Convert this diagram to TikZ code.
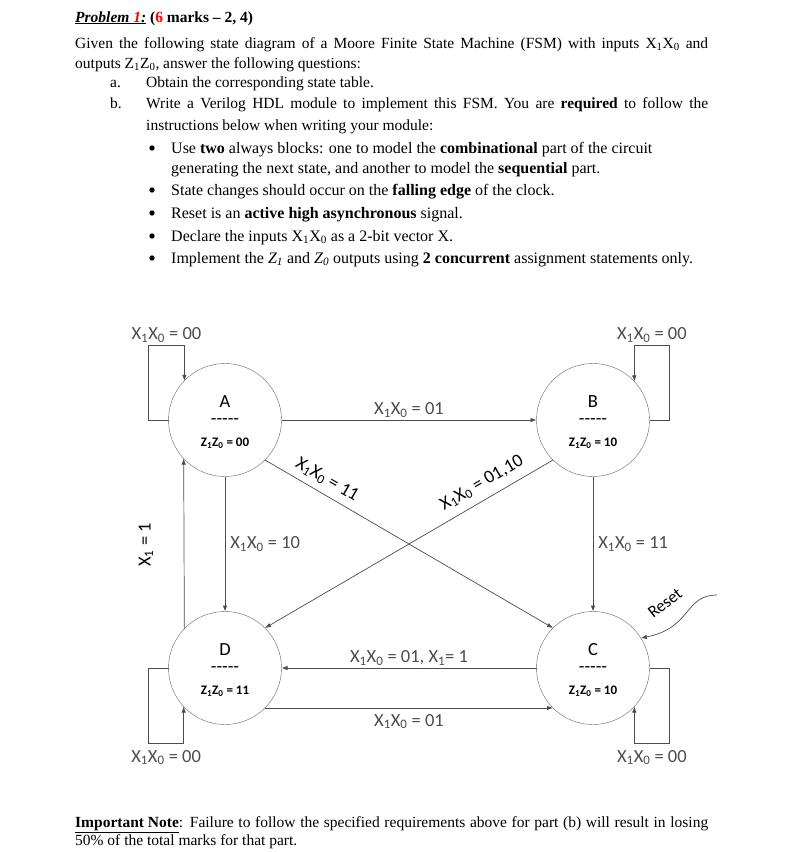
\documentclass[tikz,border=0pt]{standalone}
\usepackage{fontspec}
\setmainfont{Liberation Serif}
\newfontfamily\diagfont{Carlito}
\usetikzlibrary{arrows.meta}
\newcommand{\xin}{X\textsubscript{1}X\textsubscript{0}}
\newcommand{\zout}{Z\textsubscript{1}Z\textsubscript{0}}

\begin{document}
\begin{tikzpicture}[x=1pt, y=-1pt,
    txt/.style={anchor=base west, inner sep=0pt, font=\fontsize{15.5}{18}\selectfont},
    ruletxt/.style={txt, font=\fontsize{16}{18}\selectfont},
    state/.style={circle, draw=black!60, fill=white, minimum size=113pt, inner sep=0pt, outer sep=0pt},
    arr/.style={-{Latex[length=6pt,width=4.5pt]}, black!70, line width=0.7pt},
    lbl/.style={font=\diagfont\fontsize{18.5}{20}\selectfont, inner sep=2pt},
    outp/.style={font=\diagfont\bfseries\fontsize{13}{15}\selectfont, inner sep=0pt}
]
    \useasboundingbox (0,0) rectangle (790,852);

    % Enonce
    \node[txt] (title) at (75,22) {\underline{\textbf{\textit{Problem \textcolor{red}{1}:}}} \textbf{(\textcolor{red}{6} marks -- 2, 4)}};
    \node[txt] (intro1) at (75,48) {\makebox[633pt][s]{Given the following state diagram of a Moore Finite State Machine (FSM) with inputs \xin{} and}};
    \node[txt] (intro2) at (75,68) {outputs \zout, answer the following questions:};
    \node[txt] (qa) at (110,87) {a.};
    \node[txt] (qatext) at (146,87) {Obtain the corresponding state table.};
    \node[txt] (qb) at (110,108) {b.};
    \node[txt] (qbtext) at (146,108) {\makebox[562pt][s]{Write a Verilog HDL module to implement this FSM. You are \textbf{required} to follow the}};
    \node[txt] (qbtext2) at (146,130) {instructions below when writing your module:};
    \foreach \y in {153,195,218,241,263}
        \fill (152,\y-5) circle (2.7pt);
    \node[ruletxt] (rule1) at (171,153) {Use \textbf{two} always blocks: one to model the \textbf{combinational} part of the circuit};
    \node[ruletxt] (rule1b) at (171,173) {generating the next state, and another to model the \textbf{sequential} part.};
    \node[ruletxt] (rule2) at (171,195) {State changes should occur on the \textbf{falling edge} of the clock.};
    \node[ruletxt] (rule3) at (171,218) {Reset is an \textbf{active high asynchronous} signal.};
    \node[ruletxt] (rule4) at (171,241) {Declare the inputs \xin{} as a 2-bit vector X.};
    \node[ruletxt] (rule5) at (171,263) {Implement the \textit{Z\textsubscript{1}} and \textit{Z\textsubscript{0}} outputs using \textbf{2 concurrent} assignment statements only.};

    % Etats
    \node[state] (A) at (225,420) {};
    \node[state] (B) at (593,420) {};
    \node[state] (C) at (593,668) {};
    \node[state] (D) at (225,668) {};
    \node[lbl] (Aname) at ([yshift=18pt]A.center) {A};
    \node[lbl] (Bname) at ([yshift=18pt]B.center) {B};
    \node[lbl] (Cname) at ([yshift=18pt]C.center) {C};
    \node[lbl] (Dname) at ([yshift=18pt]D.center) {D};
    \node[lbl, inner sep=0pt] (Adash) at ([yshift=-2pt]A.center) {-{}-{}-{}-{}-};
    \node[lbl, inner sep=0pt] (Bdash) at ([yshift=-2pt]B.center) {-{}-{}-{}-{}-};
    \node[lbl, inner sep=0pt] (Cdash) at ([yshift=-2pt]C.center) {-{}-{}-{}-{}-};
    \node[lbl, inner sep=0pt] (Ddash) at ([yshift=-2pt]D.center) {-{}-{}-{}-{}-};
    \node[outp] (Aout) at ([yshift=-23pt]A.center) {\zout{} = 00};
    \node[outp] (Bout) at ([yshift=-23pt]B.center) {\zout{} = 10};
    \node[outp] (Cout) at ([yshift=-23pt]C.center) {\zout{} = 10};
    \node[outp] (Dout) at ([yshift=-23pt]D.center) {\zout{} = 11};

    % Transitions
    \draw[arr] (A.east) -- node[lbl, above] (tAB) {\xin{} = 01} (B.west);
    \draw[arr] (A.-45) -- (C.135);
    \node[lbl, rotate=-30.3] (tAC) at (327,480) {\xin{} = 11};
    \draw[arr] (B.225) -- (D.45);
    \node[lbl, rotate=30.3] (tBD) at (482,483) {\xin{} = 01,10};
    \draw[arr] (A.south) -- node[lbl, right=3pt] (tAD) {\xin{} = 10} (D.north);
    \draw[arr] (D.136.5) -- (A.223.5);
    \node[lbl, rotate=90] (tDA) at (146,545) {X\textsubscript{1} = 1};
    \draw[arr] (B.south) -- node[lbl, right=3pt] (tBC) {\xin{} = 11} (C.north);
    \draw[arr] (C.west) -- node[lbl, above] (tCD) {\xin{} = 01, X\textsubscript{1}= 1} (D.east);
    \draw[arr] (D.-45) -- node[lbl, below=4pt] (tDC) {\xin{} = 01} (C.225);

    % Boucles
    \draw[arr] (A.west) -- ++(-20,0) -- ++(0,-75) -| node[lbl, above, pos=0.25] (tAA) {\xin{} = 00} (A.136.5);
    \draw[arr] (B.east) -- ++(20,0) -- ++(0,-75) -| node[lbl, above, pos=0.25] (tBB) {\xin{} = 00} (B.43.5);
    \draw[arr] (C.east) -- ++(20,0) -- ++(0,75) -| node[lbl, below=5pt, pos=0.25] (tCC) {\xin{} = 00} (C.-43.5);
    \draw[arr] (D.west) -- ++(-20,0) -- ++(0,75) -| node[lbl, below=5pt, pos=0.25] (tDD) {\xin{} = 00} (D.223.5);

    % Reset
    \coordinate (rst) at (717,595);
    \draw[arr] (rst) .. controls (684,595) and (692,628) .. (C.32);
    \node[lbl, rotate=38, font=\diagfont\fontsize{17}{19}\selectfont] (rsttxt) at (665,603) {Reset};

    % Note
    \node[txt] (note1) at (75,827) {\makebox[633pt][s]{\underline{\textbf{Important Note}}: Failure to follow the specified requirements above for part (b) will result in losing}};
    \node[txt] (note2) at (75,845) {50\% of the total marks for that part.};
\end{tikzpicture}
\end{document}
